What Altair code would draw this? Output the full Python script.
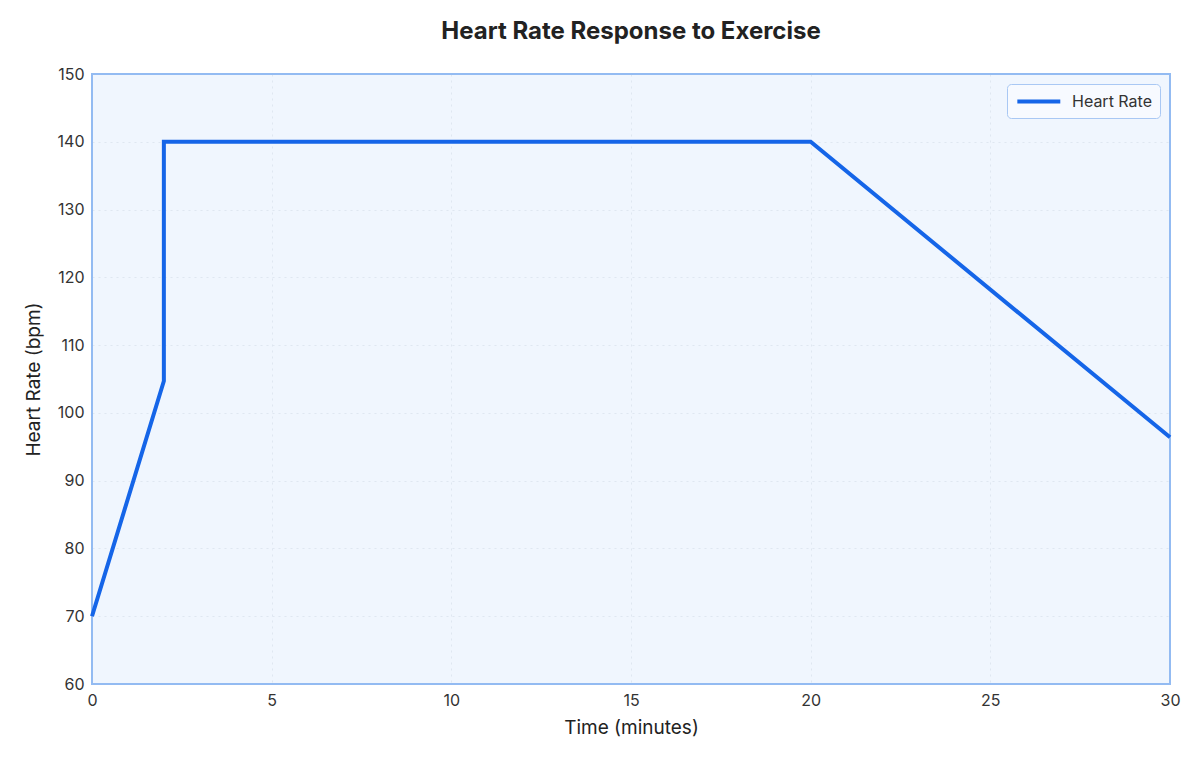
import altair as alt
import pandas as pd

time_min = [0, 2, 2, 20, 30]
heart_rate = [70, 104.7, 140, 140, 96.4]
series = ["Heart Rate"] * len(time_min)
order = list(range(len(time_min)))

df = pd.DataFrame({"t": time_min, "hr": heart_rate, "s": series, "o": order})

FONT = "Inter"
W, H = 1078, 610

line = alt.Chart(df).mark_line(strokeWidth=4, strokeJoin="miter").encode(
    x=alt.X("t:Q", title="Time (minutes)",
            scale=alt.Scale(domain=[0, 30], nice=False, zero=False),
            axis=alt.Axis(values=[0, 5, 10, 15, 20, 25, 30], format="d", labelFlush=False)),
    y=alt.Y("hr:Q", title="Heart Rate (bpm)",
            scale=alt.Scale(domain=[60, 150], nice=False, zero=False),
            axis=alt.Axis(values=[60, 70, 80, 90, 100, 110, 120, 130, 140, 150], labelFlush=False)),
    order="o:Q",
    color=alt.Color("s:N", title=None,
                    scale=alt.Scale(range=["#1565e8"]),
                    legend=alt.Legend(orient="top-right", symbolType="M-1,0H5",
                                      symbolStrokeWidth=4, symbolSize=205,
                                      strokeColor="#a9c8f4", fillColor="#f7faff",
                                      cornerRadius=4, padding=8, offset=10,
                                      labelFontSize=16, labelColor="#333333",
                                      labelFont=FONT, labelOffset=38)),
)

border = alt.Chart(df).mark_rect(fill=None, stroke="#93bbf2", strokeWidth=2).encode(
    x=alt.value(0), x2=alt.value(W), y=alt.value(0), y2=alt.value(H)
)

chart = alt.layer(border, line).properties(
    width=W, height=H,
    title=alt.Title("Heart Rate Response to Exercise", fontSize=24, fontWeight="bold",
                    font=FONT, color="#222222", offset=22),
    padding={"left": 84, "top": 66, "right": 22, "bottom": 69},
    autosize=alt.AutoSizeParams(type="none"),
).configure_view(
    fill="#f0f6fe", stroke=None,
).configure_axis(
    grid=True, gridColor="#dfe7f1", gridDash=[2, 4], gridWidth=1,
    domain=False, ticks=False,
    labelFont=FONT, titleFont=FONT, labelFontSize=16, titleFontSize=19,
    labelColor="#333333", titleColor="#222222", titleFontWeight="normal",
    labelPadding=8,
).configure_axisX(titlePadding=10).configure_axisY(titlePadding=14)

chart.save("out.html", embed_options={"renderer": "svg", "actions": False})
